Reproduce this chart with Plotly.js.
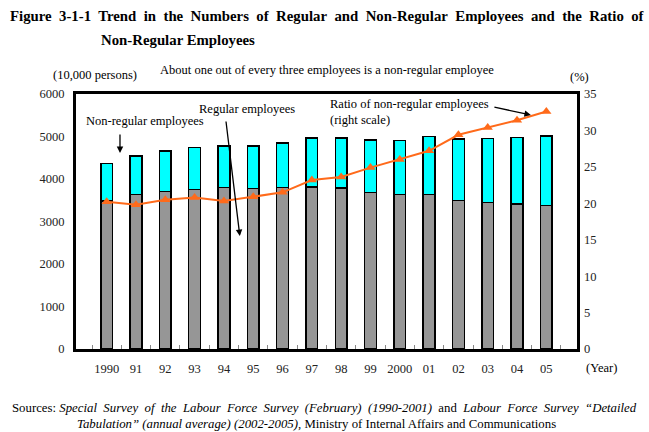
<!DOCTYPE html>
<html>
<head>
<meta charset="utf-8">
<script src="https://cdn.plot.ly/plotly-3.0.1.min.js"></script>
<style>
  body { margin: 0; background: #fff; }
  #chart { width: 649px; height: 432px; }
</style>
</head>
<body>
<div id="chart"></div>
<script>
// Years (tick labels)
var years = ["1990", "91", "92", "93", "94", "95", "96", "97", "98", "99", "2000", "01", "02", "03", "04", "05"];

// Regular employees (10,000 persons)
var regular = [3488, 3639, 3705, 3756, 3805, 3779, 3800, 3812, 3794, 3688, 3630, 3640, 3489, 3444, 3410, 3374];

// Non-regular employees (10,000 persons)
var nonRegular = [881, 897, 958, 986, 971, 1001, 1043, 1152, 1173, 1225, 1273, 1360, 1451, 1504, 1564, 1633];

// Ratio of non-regular employees (%)
var ratio = [20.2, 19.8, 20.5, 20.8, 20.3, 20.9, 21.5, 23.2, 23.6, 24.9, 26.0, 27.2, 29.4, 30.4, 31.4, 32.6];

var serif = "Liberation Serif, Times New Roman, serif";

// widen word gaps to imitate the justified lines of the reference
function spread(s) { return s.split(" ").join("\u00a0 "); }

var data = [
  {
    type: "bar",
    x: years,
    y: regular,
    name: "Regular employees",
    marker: { color: "#969696", line: { color: "#000", width: 1.5 } }
  },
  {
    type: "bar",
    x: years,
    y: nonRegular,
    name: "Non-regular employees",
    marker: { color: "#00ffff", line: { color: "#000", width: 1.5 } }
  },
  {
    type: "scatter",
    mode: "lines+markers",
    x: years,
    y: ratio,
    yaxis: "y2",
    name: "Ratio of non-regular employees",
    line: { color: "#ff6a1a", width: 2 },
    marker: { symbol: "triangle-up", size: 9, color: "#ff6a1a" }
  }
];

function ann(text, x, y, opts) {
  return Object.assign({
    text: text, x: x, y: y, xref: "paper", yref: "paper",
    xanchor: "center", yanchor: "middle",
    showarrow: false, font: { family: serif, size: 12.5, color: "#000" }
  }, opts || {});
}

function arrow(x, y, ax, ay) {
  return {
    text: "", x: x, y: y, xref: "paper", yref: "paper",
    showarrow: true, ax: ax, ay: ay, axref: "pixel", ayref: "pixel",
    arrowhead: 2, arrowsize: 1, arrowwidth: 1.3, arrowcolor: "#000"
  };
}

var titleFont = { family: serif, size: 14.8, color: "#000" };
var srcFont = { family: serif, size: 12.8, color: "#000" };

var layout = {
  width: 649,
  height: 432,
  margin: { l: 76, r: 72, t: 94, b: 83 },
  paper_bgcolor: "#fff",
  plot_bgcolor: "#fff",
  barmode: "stack",
  bargap: 0.6,
  showlegend: false,
  font: { family: serif, size: 12.5, color: "#000" },
  xaxis: {
    type: "category",
    showline: true, linecolor: "#000", linewidth: 3, mirror: true,
    ticks: "inside", tickson: "boundaries", ticklen: 4, tickcolor: "#888",
    tickangle: 0,
    tickfont: { family: serif, size: 12.5, color: "#222" },
    ticklabelstandoff: 6
  },
  yaxis: {
    range: [0, 6000], dtick: 1000,
    showgrid: false, zeroline: false,
    showline: true, linecolor: "#000", linewidth: 3, mirror: true,
    ticks: "", tickfont: { family: serif, size: 12.5, color: "#222" },
    ticklabelstandoff: 6
  },
  yaxis2: {
    overlaying: "y", side: "right",
    range: [0, 35], dtick: 5,
    showgrid: false, zeroline: false, showline: false,
    ticks: "", tickfont: { family: serif, size: 12.5, color: "#222" },
    ticklabelstandoff: 6
  },
  annotations: [
    ann("<b>" + spread("Figure 3-1-1 Trend in the Numbers of Regular and Non-Regular Employees and the Ratio of") + "</b>",
        -0.1357, 1.306, { xanchor: "left", font: titleFont }),
    ann("<b>Non-Regular Employees</b>", 0.0459, 1.212, { xanchor: "left", font: titleFont }),
    ann("About one out of every three employees is a non-regular employee", 0.501, 1.094),
    ann("(10,000 persons)", 0.038, 1.075),
    ann("(%)", 1.004, 1.067),
    ann("(Year)", 1.048, -0.075),
    ann("Non-regular employees", 0.1377, 0.894),
    ann("Regular employees", 0.341, 0.941),
    ann("Ratio of non-regular employees<br>(right scale)", 0.503, 0.931,
        { xanchor: "left", align: "left" }),
    arrow(0.0878, 0.769, 0, -20),
    arrow(0.327, 0.443, -14, -116),
    arrow(0.908, 0.918, -38, -8),
    ann("Sources: <i>" + spread("Special Survey of the Labour Force Survey (February) (1990-2001)") +
        "</i>\u00a0 and\u00a0 <i>" + spread("Labour Force Survey \u201cDetailed") + "</i>",
        -0.1317, -0.231, { xanchor: "left", font: srcFont }),
    ann("<i>Tabulation\u201d (annual average) (2002-2005)</i>, Ministry of Internal Affairs and Communications",
        -0.002, -0.294, { xanchor: "left", font: srcFont })
  ]
};

Plotly.newPlot("chart", data, layout, { displayModeBar: false, staticPlot: true });
</script>
</body>
</html>
